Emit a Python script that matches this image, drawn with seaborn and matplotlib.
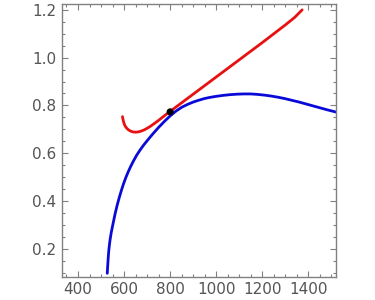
import numpy as np
import pandas as pd
import matplotlib
matplotlib.use("Agg")
import matplotlib.pyplot as plt
from matplotlib.ticker import MultipleLocator
import seaborn as sns

# Blue curve
blue_x = [527, 530, 533, 536, 539, 544, 550, 561, 570, 579, 588, 597, 608, 618, 629,
          640, 655, 670, 685, 700, 725, 750, 775, 800, 825, 850, 875, 900, 925, 950,
          975, 1000, 1030, 1060, 1090, 1120, 1150, 1180, 1210, 1240, 1270, 1300,
          1330, 1360, 1390, 1420, 1450, 1480, 1525]
blue_y = [0.097, 0.145, 0.185, 0.213, 0.236, 0.266, 0.295, 0.346, 0.382, 0.414,
          0.443, 0.470, 0.499, 0.522, 0.545, 0.566, 0.592, 0.614, 0.634, 0.652,
          0.681, 0.708, 0.733, 0.756, 0.776, 0.792, 0.804, 0.814, 0.822, 0.829,
          0.834, 0.838, 0.842, 0.845, 0.847, 0.848, 0.848, 0.846, 0.843, 0.839,
          0.834, 0.828, 0.821, 0.814, 0.806, 0.798, 0.790, 0.782, 0.771]

# Red curve
red_x = [593, 596, 600, 605, 612, 620, 629, 639, 650, 661, 673, 686, 700, 715, 731,
         748, 765, 782, 800, 850, 900, 950, 1000, 1050, 1100, 1150, 1200, 1250,
         1300, 1340, 1373]
red_y = [0.753, 0.738, 0.724, 0.713, 0.704, 0.697, 0.692, 0.689, 0.688, 0.689,
         0.692, 0.697, 0.704, 0.713, 0.724, 0.736, 0.749, 0.762, 0.775, 0.811,
         0.847, 0.883, 0.919, 0.955, 0.991, 1.027, 1.063, 1.100, 1.137, 1.168, 1.200]

# Marked point
pt_x = [800]
pt_y = [0.773]

x_ticks = [400, 600, 800, 1000, 1200, 1400]
y_ticks = [0.2, 0.4, 0.6, 0.8, 1.0, 1.2]

sns.set_style("ticks")
plt.rcParams['font.family'] = ['DejaVu Sans']

fig = plt.figure(figsize=(3.75, 3.0), dpi=100)
ax = fig.add_axes([0.165, 0.077, 0.731, 0.910])

blue_df = pd.DataFrame({"x": blue_x, "y": blue_y})
red_df = pd.DataFrame({"x": red_x, "y": red_y})
pt_df = pd.DataFrame({"x": pt_x, "y": pt_y})

sns.lineplot(data=blue_df, x="x", y="y", sort=False, color="#0a0ad8", linewidth=2.0,
             ax=ax, solid_joinstyle="round", solid_capstyle="round")
sns.lineplot(data=red_df, x="x", y="y", sort=False, color="#e81010", linewidth=2.0,
             ax=ax, solid_joinstyle="round", solid_capstyle="round")
sns.scatterplot(data=pt_df, x="x", y="y", color="black", s=26, edgecolor="none",
                zorder=5, ax=ax)

ax.set_xlim(330, 1520)
ax.set_ylim(0.082, 1.225)
ax.set_xticks(x_ticks)
ax.set_yticks(y_ticks)
ax.set_xticklabels([str(v) for v in x_ticks])
ax.set_yticklabels([f"{v:.1f}" for v in y_ticks])
ax.xaxis.set_minor_locator(MultipleLocator(50))
ax.yaxis.set_minor_locator(MultipleLocator(0.05))
ax.set_xlabel("")
ax.set_ylabel("")

spine_col = "#808080"
for s in ax.spines.values():
    s.set_visible(True)
    s.set_color(spine_col)
    s.set_linewidth(1.0)
ax.tick_params(which="both", direction="in", top=True, right=True, color=spine_col,
               labelcolor="#555555", labelsize=11, width=0.8)
ax.tick_params(which="major", length=4, pad=4)
ax.tick_params(which="minor", length=2)

fig.savefig("out.png", dpi=100)
